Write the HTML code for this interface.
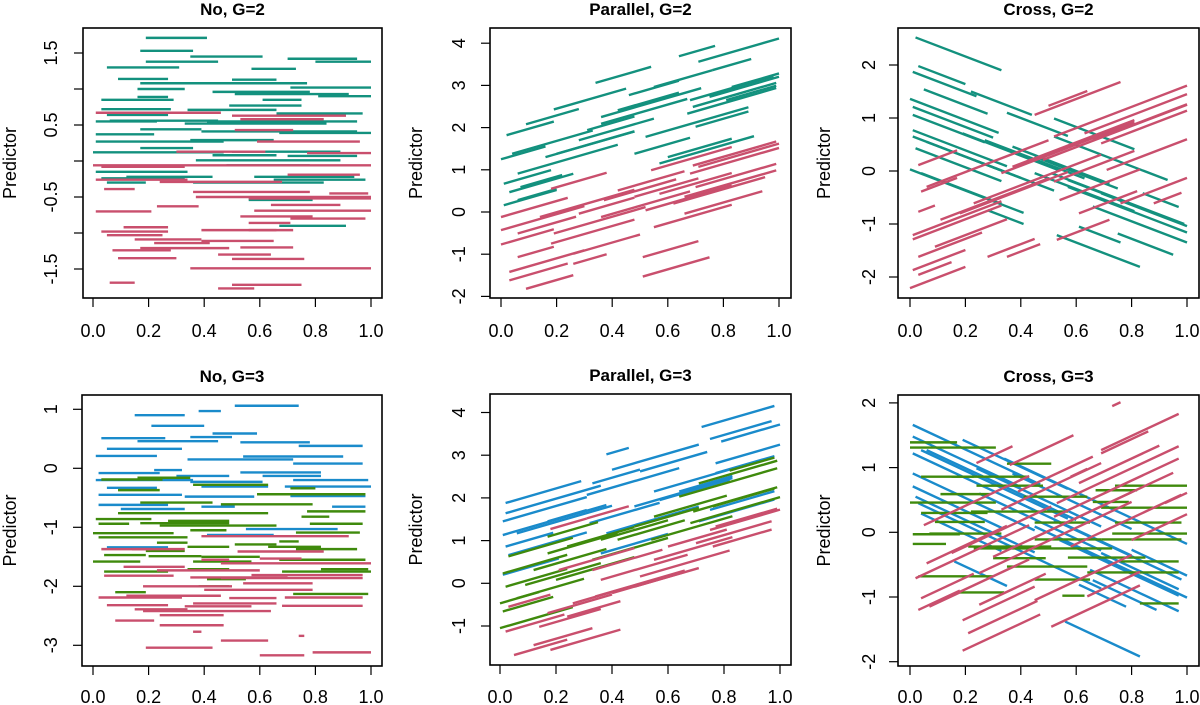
<!DOCTYPE html>
<html><head><meta charset="utf-8">
<style>
body{margin:0;background:#fff;}
svg{display:block;font-family:"Liberation Sans",Arial,sans-serif;}
</style></head>
<body>
<svg id="fig" width="1200" height="705" viewBox="0 0 1200 705" xmlns="http://www.w3.org/2000/svg"></svg>
<script>
// ---- data: segments as [x0, x1, y at x0] ----
const p1Teal=[[0.19,0.41,1.71],[0.17,0.36,1.53],[0.35,0.61,1.45],[0.19,0.45,1.38],[0.70,0.95,1.42],[0.80,1.0,1.38],[0.05,0.31,1.30],[0.57,0.73,1.28],[0.09,0.27,1.14],[0.17,0.77,1.08],[0.50,0.66,1.13],[0.16,0.33,1.0],[0.71,1.0,1.02],[0.43,0.78,0.96],[0.51,0.92,0.93],[0.81,1.0,0.90],[0.03,0.29,0.85],[0.16,0.27,0.89],[0.61,0.75,0.85],[0.03,0.28,0.72],[0.49,0.75,0.77],[0.34,0.66,0.71],[0.05,0.27,0.64],[0.66,0.97,0.66],[0.06,0.45,0.56],[0.33,0.84,0.52],[0.01,0.23,0.55],[0.41,0.95,0.55],[0.17,0.39,0.44],[0.01,0.22,0.37],[0.39,0.95,0.41],[0.67,1.0,0.39],[0.01,0.47,0.27],[0.35,0.65,0.29],[0.17,0.36,0.18],[0.0,0.47,0.12],[0.43,0.66,0.08],[0.50,0.89,0.13],[0.70,0.95,0.07],[0.37,0.89,0.01],[0.01,0.34,-0.15],[0.03,0.33,-0.24],[0.12,0.43,-0.22],[0.36,0.83,-0.30],[0.58,0.94,-0.22],[0.05,0.19,-0.30],[0.56,0.79,-0.54],[0.67,0.91,-0.90],[0.48,0.78,-0.06],[0.65,0.98,-0.26]];
const p1Pink=[[0.01,0.46,0.67],[0.5,0.91,0.63],[0.53,0.83,0.58],[0.51,0.72,0.43],[0.59,0.96,0.27],[0.30,0.62,0.13],[0.77,1.0,0.11],[0.0,1.0,-0.06],[0.03,0.33,-0.08],[0.01,0.34,-0.26],[0.24,0.68,-0.29],[0.70,0.96,-0.19],[0.04,0.15,-0.39],[0.36,0.78,-0.43],[0.37,1.0,-0.50],[0.85,0.99,-0.45],[0.56,1.0,-0.52],[0.23,0.38,-0.63],[0.01,0.21,-0.70],[0.58,1.0,-0.69],[0.53,0.79,-0.77],[0.71,0.98,-0.80],[0.56,0.71,-0.86],[0.11,0.27,-0.92],[0.03,0.27,-0.98],[0.05,0.25,-1.03],[0.39,0.66,-0.96],[0.15,0.39,-1.09],[0.56,0.72,-0.96],[0.17,0.49,-1.21],[0.39,0.65,-1.11],[0.07,0.28,-1.24],[0.53,0.72,-1.20],[0.45,0.64,-1.30],[0.09,0.30,-1.35],[0.50,0.76,-1.36],[0.35,1.0,-1.49],[0.06,0.15,-1.69],[0.50,0.75,-1.72],[0.45,0.58,-1.77],[0.22,0.42,-1.14],[0.64,0.89,-0.61]];
const p2Teal=[[0.64,0.77,3.69],[0.71,1.0,3.56],[0.34,0.54,3.06],[0.76,0.90,3.36],[0.0,0.16,1.25],[0.02,0.19,1.82],[0.09,0.28,2.08],[0.19,0.45,2.43],[0.04,0.33,1.38],[0.01,0.18,0.67],[0.01,0.2,0.16],[0.03,0.26,0.47],[0.06,0.42,0.91],[0.16,0.48,1.30],[0.36,0.67,2.09],[0.46,0.64,2.77],[0.55,0.76,2.96],[0.67,0.99,2.33],[0.68,0.98,2.65],[0.75,1.0,2.73],[0.69,0.99,2.49],[0.52,0.89,1.78],[0.57,0.91,1.15],[0.6,0.83,1.3],[0.81,0.99,2.65],[0.36,0.72,2.25],[0.28,0.55,1.70],[0.2,0.48,1.38],[0.07,0.22,0.59],[0.06,0.2,0.28],[0.42,0.64,2.41],[0.31,0.48,1.94],[0.83,1.0,2.96],[0.7,0.89,2.02],[0.48,0.68,1.38]];
const p2Pink=[[0.0,0.3,-0.43],[0.0,0.24,-0.12],[0.0,0.19,-0.77],[0.03,0.3,-1.42],[0.03,0.24,-1.62],[0.09,0.26,-1.82],[0.06,0.19,-1.07],[0.06,0.27,-0.51],[0.14,0.48,-0.12],[0.18,0.38,0.55],[0.18,0.48,-0.75],[0.19,0.52,-0.51],[0.26,0.5,-0.99],[0.26,0.38,-1.23],[0.36,0.68,-0.12],[0.37,0.63,0.28],[0.42,0.66,0.51],[0.51,0.71,-1.07],[0.51,0.75,-1.53],[0.54,0.83,0.99],[0.57,0.83,0.43],[0.55,0.83,-0.36],[0.52,0.83,0.04],[0.66,0.99,0.36],[0.68,1.0,0.91],[0.69,0.99,1.10],[0.71,1.0,1.07],[0.7,0.99,0.59],[0.66,0.94,-0.04],[0.62,0.95,0.20],[0.48,0.71,0.36],[0.28,0.48,-0.04]];
const p3Teal=[[0.02,0.33,2.52],[0.01,0.24,1.87],[0.03,0.2,1.98],[0.05,0.28,1.54],[0.22,0.44,1.50],[0.0,0.32,1.36],[0.01,0.3,1.21],[0.01,0.27,1.06],[0.01,0.35,0.77],[0.01,0.35,0.65],[0.02,0.33,0.43],[0.0,0.41,0.03],[0.04,0.33,-0.04],[0.35,0.57,1.10],[0.19,0.54,0.71],[0.27,0.63,0.58],[0.52,0.81,0.99],[0.37,0.72,0.46],[0.45,0.81,-0.04],[0.52,0.93,0.65],[0.51,0.99,-0.04],[0.57,0.95,-0.17],[0.57,1.0,-0.30],[0.61,0.76,-1.05],[0.53,0.83,-1.21],[0.75,0.95,-1.18],[0.66,1.0,-0.67],[0.69,1.0,-0.42],[0.84,0.97,-0.42],[0.06,0.4,0.55],[0.45,0.75,0.27],[0.23,0.52,0.21],[0.28,0.41,-0.74]];
const p3Pink=[[0.0,0.2,-2.21],[0.01,0.2,-1.87],[0.03,0.15,-1.96],[0.03,0.26,-1.62],[0.01,0.33,-1.29],[0.01,0.33,-1.21],[0.09,0.35,-1.43],[0.28,0.45,-1.62],[0.35,0.47,-1.62],[0.03,0.09,-0.77],[0.04,0.17,-0.39],[0.03,0.17,0.11],[0.06,0.5,-0.30],[0.11,0.5,-0.92],[0.18,0.57,-0.80],[0.23,0.69,-0.61],[0.45,0.76,1.06],[0.5,0.64,1.23],[0.52,1.0,0.65],[0.48,1.0,0.21],[0.52,0.81,-0.20],[0.54,0.83,-0.55],[0.53,0.72,-1.30],[0.61,0.82,-0.80],[0.63,1.0,0.71],[0.66,1.0,0.58],[0.69,1.0,0.52],[0.71,1.0,0.02],[0.76,1.0,-0.61],[0.88,0.98,-0.61],[0.33,0.81,-0.04],[0.37,0.81,0.08]];
const p4Blue=[[0.51,0.74,1.06],[0.15,0.33,0.90],[0.38,0.46,0.97],[0.21,0.40,0.72],[0.43,0.59,0.59],[0.03,0.26,0.51],[0.16,0.45,0.46],[0.35,0.50,0.53],[0.53,0.78,0.44],[0.74,0.97,0.38],[0.05,0.32,0.33],[0.01,0.23,0.21],[0.34,0.72,0.15],[0.54,0.90,0.20],[0.72,0.97,0.08],[0.22,0.32,-0.03],[0.02,0.24,-0.08],[0.53,0.82,-0.07],[0.30,0.49,-0.13],[0.61,0.82,-0.13],[0.01,0.36,-0.20],[0.35,0.61,-0.23],[0.72,0.99,-0.20],[0.05,0.23,-0.33],[0.39,0.63,-0.31],[0.69,1.0,-0.31],[0.02,0.32,-0.45],[0.33,0.58,-0.48],[0.71,0.98,-0.47],[0.02,0.27,-0.62],[0.39,0.51,-0.65],[0.10,0.33,-0.69],[0.86,0.98,-0.65],[0.55,0.88,-1.03],[0.05,0.27,-1.34],[0.41,0.65,-1.13]];
const p4Green=[[0.03,0.25,-0.19],[0.16,0.35,-0.16],[0.09,0.24,-0.37],[0.36,0.63,-0.28],[0.71,0.80,-0.34],[0.59,0.98,-0.44],[0.17,0.43,-0.58],[0.46,0.79,-0.61],[0.09,0.63,-0.76],[0.77,0.98,-0.73],[0.01,0.21,-0.86],[0.27,0.49,-0.89],[0.75,0.85,-0.82],[0.02,0.13,-0.94],[0.17,0.49,-0.93],[0.24,0.66,-0.97],[0.78,0.97,-0.94],[0.0,0.29,-1.10],[0.02,0.34,-1.17],[0.35,0.48,-1.05],[0.73,0.96,-1.09],[0.67,0.74,-1.24],[0.23,0.34,-1.26],[0.51,0.66,-1.29],[0.34,0.49,-1.33],[0.19,0.33,-1.40],[0.63,0.82,-1.33],[0.73,0.95,-1.37],[0.04,0.19,-1.47],[0.20,0.39,-1.49],[0.39,0.60,-1.50],[0.0,0.17,-1.58],[0.36,0.57,-1.58],[0.67,0.98,-1.55],[0.04,0.27,-1.75],[0.34,0.49,-1.71],[0.68,1.0,-1.75],[0.82,0.99,-1.71],[0.41,0.55,-1.88],[0.38,0.49,-2.0],[0.08,0.19,-2.10],[0.72,0.99,-2.13]];
const p4Pink=[[0.39,0.92,-1.15],[0.03,0.21,-1.37],[0.14,0.33,-1.37],[0.52,0.83,-1.41],[0.39,0.49,-1.55],[0.60,0.75,-1.53],[0.11,0.33,-1.67],[0.46,1.0,-1.61],[0.04,0.29,-1.82],[0.23,0.60,-1.73],[0.57,0.97,-1.81],[0.35,0.70,-1.85],[0.46,0.97,-1.86],[0.18,0.50,-2.0],[0.54,0.79,-1.95],[0.40,0.79,-2.06],[0.02,0.32,-2.19],[0.12,0.46,-2.16],[0.49,0.66,-2.20],[0.69,0.97,-2.19],[0.05,0.27,-2.32],[0.36,0.66,-2.29],[0.68,0.97,-2.33],[0.15,0.34,-2.39],[0.33,0.57,-2.34],[0.18,0.64,-2.42],[0.24,0.47,-2.49],[0.08,0.22,-2.58],[0.24,0.47,-2.66],[0.36,0.39,-2.77],[0.46,0.63,-2.92],[0.19,0.43,-3.04],[0.60,0.76,-3.17],[0.79,1.0,-3.12],[0.74,0.76,-2.84]];
const p5Blue=[[0.72,0.98,3.66],[0.75,0.97,3.38],[0.79,1.0,3.32],[0.38,0.46,3.02],[0.02,0.29,1.88],[0.02,0.36,1.64],[0.01,0.31,1.45],[0.01,0.38,1.13],[0.02,0.19,0.86],[0.03,0.31,0.66],[0.01,0.21,0.20],[0.31,0.64,2.07],[0.33,0.50,2.34],[0.40,0.71,2.66],[0.50,0.74,2.62],[0.32,0.57,1.41],[0.38,0.71,1.17],[0.36,0.60,0.70],[0.48,0.83,1.80],[0.55,0.83,2.15],[0.64,0.83,2.15],[0.77,1.0,2.81],[0.77,0.98,2.58],[0.71,0.98,1.45],[0.75,0.98,1.72],[0.17,0.31,1.45],[0.06,0.40,1.17],[0.57,0.82,1.95]];
const p5Green=[[0.82,0.98,2.64],[0.71,0.99,2.34],[0.64,0.99,2.03],[0.76,0.98,1.80],[0.69,0.99,1.68],[0.68,1.0,1.41],[0.54,0.83,1.02],[0.01,0.24,0.23],[0.0,0.14,-0.47],[0.01,0.19,-0.66],[0.0,0.26,-1.05],[0.02,0.24,-0.08],[0.09,0.36,-0.04],[0.06,0.30,-0.35],[0.03,0.26,0.63],[0.17,0.42,0.70],[0.24,0.48,0.86],[0.17,0.35,1.09],[0.36,0.60,1.02],[0.33,0.60,0.55],[0.42,0.66,1.02],[0.48,0.71,1.33],[0.55,0.81,1.56],[0.12,0.38,0.31],[0.20,0.48,0.08]];
const p5Pink=[[0.05,0.24,-1.68],[0.18,0.43,-1.56],[0.12,0.33,-1.45],[0.02,0.23,-1.13],[0.03,0.18,-0.55],[0.14,0.36,-1.02],[0.24,0.43,-0.78],[0.17,0.40,-0.70],[0.26,0.55,-0.47],[0.34,0.66,-0.31],[0.40,0.66,-0.23],[0.48,0.71,-0.08],[0.50,0.82,0.16],[0.55,0.83,0.55],[0.60,0.81,0.86],[0.75,1.0,1.25],[0.77,0.99,1.33],[0.70,0.97,0.94],[0.76,0.97,0.86],[0.18,0.31,1.27],[0.31,0.46,1.52],[0.21,0.48,0.31],[0.33,0.58,0.31],[0.36,0.67,0.08]];
const p6Blue=[[0.01,0.47,1.66],[0.19,0.57,1.43],[0.01,0.40,1.48],[0.01,0.45,1.22],[0.04,0.57,1.27],[0.06,0.6,1.27],[0.01,0.45,0.91],[0.24,0.69,0.99],[0.34,1.0,1.14],[0.37,0.80,0.91],[0.01,0.33,0.71],[0.02,0.45,0.55],[0.03,0.69,0.45],[0.04,0.33,0.29],[0.16,0.35,-0.45],[0.45,1.0,0.09],[0.52,0.98,0.19],[0.54,0.97,-0.12],[0.61,0.78,-0.81],[0.56,0.83,-1.38],[0.69,0.97,-0.32],[0.65,0.97,-0.58],[0.66,0.89,-0.74],[0.80,1.0,-0.27],[0.25,0.69,0.60],[0.37,0.80,0.50]];
const p6Green=[[0.0,0.17,1.39],[0.0,0.31,1.31],[0.35,0.51,1.06],[0.04,0.23,0.86],[0.15,0.43,0.86],[0.24,0.48,0.72],[0.11,0.29,0.59],[0.41,0.64,0.55],[0.67,0.82,0.65],[0.74,1.0,0.72],[0.0,0.31,0.46],[0.66,0.79,0.47],[0.04,0.28,0.30],[0.22,0.57,0.32],[0.69,1.0,0.38],[0.09,0.27,0.16],[0.45,0.65,0.15],[0.74,0.98,0.15],[0.01,0.18,-0.03],[0.07,0.33,-0.02],[0.73,1.0,-0.02],[0.01,0.13,-0.18],[0.21,0.51,-0.22],[0.23,0.73,-0.25],[0.45,0.69,-0.11],[0.69,0.98,-0.11],[0.30,0.49,-0.40],[0.57,0.85,-0.39],[0.35,0.64,-0.53],[0.64,0.97,-0.62],[0.03,0.30,-0.68],[0.45,0.65,-0.73],[0.17,0.34,-0.93],[0.55,0.63,-0.98],[0.83,0.97,-1.10],[0.76,0.97,-0.45]];
const p6Pink=[[0.19,0.47,-1.83],[0.21,0.46,-1.56],[0.19,0.45,-1.36],[0.51,0.83,-1.46],[0.25,0.49,-1.12],[0.03,0.18,-1.20],[0.04,0.23,-1.02],[0.07,0.18,-1.15],[0.02,0.43,-0.71],[0.06,0.35,-0.48],[0.17,0.43,-0.94],[0.05,0.43,0.11],[0.24,0.37,1.07],[0.36,0.59,1.04],[0.39,0.66,0.63],[0.58,0.64,0.86],[0.61,0.90,0.76],[0.69,0.86,1.22],[0.73,0.76,1.95],[0.53,0.97,0.45],[0.52,0.97,0.24],[0.43,0.95,-0.12],[0.30,0.80,-0.38],[0.25,0.80,-0.63],[0.45,0.80,-1.05],[0.64,0.83,-0.99],[0.80,1.0,-0.12],[0.58,0.98,-0.22],[0.15,0.51,-0.32],[0.33,0.69,0.35],[0.92,1.0,0.45],[0.69,0.97,1.27]];
const xTickLabels=["0.0","0.2","0.4","0.6","0.8","1.0"];

const TEAL="#13917e", PINK="#c94f6d", BLUE="#1a8bcb", GREEN="#3f8a0c";
const NS="http://www.w3.org/2000/svg";
const svg=document.getElementById('fig');
function mk(tag,attrs,parent){const e=document.createElementNS(NS,tag);for(const k in attrs)e.setAttribute(k,attrs[k]);(parent||svg).appendChild(e);return e;}

const panels=[
 {name:"no-g2",title:"No, G=2",box:[83,28,382,298],xa:93,xb:371,y0:161,ys:72,ticks:[-1.5,-1,-0.5,0,0.5,1,1.5],labs:[-1.5,-0.5,0.5,1.5],lx:50,px:9,lab:39,groups:[[p1Teal,TEAL,0,"teal"],[p1Pink,PINK,0,"pink"]]},
 {name:"parallel-g2",title:"Parallel, G=2",box:[490,28,791,298],xa:501,xb:779,y0:212,ys:42.2,ticks:[-2,-1,0,1,2,3,4],labs:[-2,-1,0,1,2,3,4],lx:458,px:415,lab:39,groups:[[p2Teal,TEAL,1.9,"teal"],[p2Pink,PINK,1.9,"pink"]]},
 {name:"cross-g2",title:"Cross, G=2",box:[898,28,1199,298],xa:910,xb:1187,y0:171,ys:53,ticks:[-2,-1,0,1,2],labs:[-2,-1,0,1,2],lx:868,px:823,lab:39,groups:[[p3Teal,TEAL,-2,"teal"],[p3Pink,PINK,2,"pink"]]},
 {name:"no-g3",title:"No, G=3",box:[82,395,382,666],xa:93,xb:371,y0:468.3,ys:59,ticks:[-3,-2,-1,0,1],labs:[-3,-2,-1,0,1],lx:50,px:9,lab:37,groups:[[p4Blue,BLUE,0,"blue"],[p4Green,GREEN,0,"green"],[p4Pink,PINK,0,"pink"]]},
 {name:"parallel-g3",title:"Parallel, G=3",box:[490,394,791,665],xa:500,xb:780,y0:583.3,ys:42.7,ticks:[-1,0,1,2,3,4],labs:[-1,0,1,2,3,4],lx:458,px:415,lab:38,groups:[[p5Blue,BLUE,1.9,"blue"],[p5Green,GREEN,1.9,"green"],[p5Pink,PINK,1.9,"pink"]]},
 {name:"cross-g3",title:"Cross, G=3",box:[898,395,1199,666],xa:910,xb:1187,y0:532.3,ys:64.7,ticks:[-2,-1,0,1,2],labs:[-2,-1,0,1,2],lx:868,px:823,lab:37,groups:[[p6Blue,BLUE,-2,"blue"],[p6Green,GREEN,0,"green"],[p6Pink,PINK,2,"pink"]]}
];

panels.forEach(p=>{
  const g=mk('g',{});
  
  
  const [L,T,R,B]=p.box;
  const sx=v=>p.xa+(p.xb-p.xa)*v;
  const sy=v=>p.y0-p.ys*v;
  const cp=mk('clipPath',{id:'cp-'+p.name},g);
  mk('rect',{x:L,y:T,width:R-L,height:B-T},cp);
  const lines=mk('g',{'clip-path':'url(#cp-'+p.name+')'},g);
  
  
  p.groups.forEach(([data,col,slope,gname])=>{
    data.forEach(d=>{
      const y1=d[2]+slope*(d[1]-d[0]);
      const ln=mk('line',{x1:sx(d[0]),y1:sy(d[2]),x2:sx(d[1]),y2:sy(y1),stroke:col,'stroke-width':2.4},lines);
      
      
    });
  });
  const box=mk('rect',{x:L,y:T,width:R-L,height:B-T,fill:'none',stroke:'#000','stroke-width':1.6},g);
  
  
  const xa=mk('g',{},g);
  
  
  xTickLabels.forEach((t,i)=>{
    const x=sx(parseFloat(t));
    mk('line',{x1:x,y1:B,x2:x,y2:B+9,stroke:'#000','stroke-width':1.2},xa);
    const tx=mk('text',{x:x,y:B+p.lab,'text-anchor':'middle','font-size':18,fill:'#000'},xa);
    tx.textContent=t;
    
    
  });
  const ya=mk('g',{},g);
  
  
  p.ticks.forEach(t=>{mk('line',{x1:L-9,y1:sy(t),x2:L,y2:sy(t),stroke:'#000','stroke-width':1.2},ya);});
  p.labs.forEach(t=>{
    const y=sy(t);
    const tx=mk('text',{x:0,y:0,'text-anchor':'middle','font-size':18,fill:'#000',transform:`translate(${p.lx+7},${y}) rotate(-90)`},ya);
    tx.textContent=String(t);
    
    
  });
  const yt=mk('text',{x:0,y:0,'text-anchor':'middle','font-size':18,fill:'#000',transform:`translate(${p.px+7},${(T+B)/2}) rotate(-90)`},g);
  yt.textContent='Predictor';
  
  
  const ti=mk('text',{x:(L+R)/2,y:T-13,'text-anchor':'middle','font-size':17,'font-weight':'bold',fill:'#000'},g);
  ti.textContent=p.title;
  
  
});
</script>
</body></html>
